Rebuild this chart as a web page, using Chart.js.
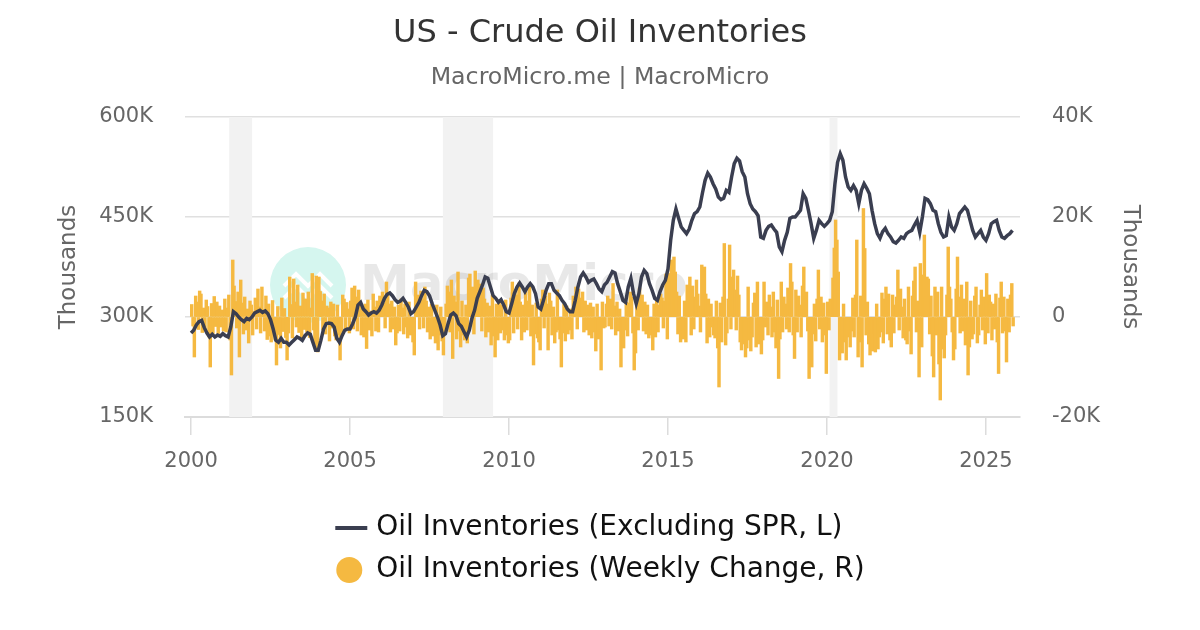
<!DOCTYPE html>
<html>
<head>
<meta charset="utf-8">
<title>US - Crude Oil Inventories</title>
<script src="https://cdn.jsdelivr.net/npm/chart.js@4.4.1/dist/chart.umd.min.js"></script>
<style>
  html, body { margin: 0; padding: 0; background: #fff; }
  #wrap { width: 1200px; height: 630px; position: relative; }
</style>
</head>
<body>
<div id="wrap"><canvas id="chart"></canvas></div>
<script>
// titles / labels
var titleText = 'US - Crude Oil Inventories';
var subtitleText = 'MacroMicro.me | MacroMicro';
var legendLabels = ['Oil Inventories (Excluding SPR, L)', 'Oil Inventories (Weekly Change, R)'];

// first year of the series, line is monthly, bars are twice a month
var startYear = 2000;

// Oil inventories excluding SPR (thousand barrels, in K) - one row per year, Jan..Dec
var inventory = [
  276, 280, 288, 293, 295, 284, 276, 270, 274, 270, 273, 271,
  275, 272, 270, 285, 308, 305, 300, 296, 293, 298, 296, 300,
  306, 308, 310, 307, 309, 305, 296, 282, 265, 262, 268, 262,
  262, 258, 262, 266, 270, 268, 265, 272, 276, 274, 262, 250,
  250, 265, 282, 290, 291, 290, 285, 268, 262, 272, 280, 282,
  282, 290, 300, 318, 322, 312, 308, 303, 306, 308, 306, 310,
  318, 328, 334, 336, 332, 326, 322, 324, 328, 322, 315, 305,
  308, 315, 322, 332, 340, 338, 332, 320, 310, 300, 288, 272,
  275, 290, 303, 306, 302, 290, 286, 278, 270, 280, 298, 310,
  328, 338, 348, 360, 358, 345, 332, 328, 322, 326, 318, 308,
  306, 320, 335, 345, 351, 345, 338, 345, 350, 345, 335, 315,
  312, 325, 340, 350, 350, 340, 336, 332, 325, 320, 312, 308,
  308, 325, 345, 360, 366, 360, 352, 355, 357, 350, 342, 338,
  348, 352, 360, 368, 366, 350, 338, 325, 322, 345, 358, 335,
  320, 335, 360, 370, 365, 350, 340, 328, 325, 338, 348, 355,
  372, 415, 445, 462, 448, 435, 430, 425, 432, 445, 455, 458,
  465, 486, 505, 516, 510, 500, 492, 480, 476, 478, 490, 487,
  510, 530, 538, 534, 518, 510, 485, 470, 462, 458, 452, 420,
  418, 430, 436, 438, 432, 427, 405, 398, 415, 427, 448, 450,
  450, 455, 460, 485, 478, 460, 440, 418, 430, 445, 440, 436,
  440, 445, 458, 500, 532, 545, 535, 510, 495, 490, 497, 490,
  470, 490, 500, 493, 485, 460, 440, 425, 418, 428, 433, 425,
  420, 413, 411, 415, 420, 418, 425, 428, 430, 438, 445, 427,
  450, 478, 476, 470, 460, 458, 440, 427, 420, 422, 450, 435,
  430, 440, 455, 460, 465, 460, 445, 430, 420, 425, 430, 420,
  415, 425, 440, 443, 445, 430, 420, 418, 422, 425, 430
];

// weekly change (in K), read roughly twice a month - one row per year
var weeklyChange = [
  2.5, -1.8, -8.0, 4.2, 3.0, -2.5, 5.2, 4.6, -3.1, 1.8, -2.6, 3.4, 2.1, -4.0, -10.0, 2.7, -3.3, 4.1, -1.9, 3.0, -3.8, 2.2, -2.0, 1.4,
  -2.8, 3.6, -3.0, 1.8, 4.4, -4.6, -11.6, 11.4, 6.2, 3.1, -2.2, 5.0, -8.0, 7.4, 2.8, -3.4, 4.0, -2.6, 1.6, -5.2, 3.2, 2.4, -3.6, 1.1,
  3.8, -2.4, 5.6, 2.0, -3.2, 6.0, 1.5, -2.8, 4.2, -4.5, 2.6, -3.8, -5.0, 3.3, -2.4, -4.6, -9.6, 2.1, -3.5, -6.2, 3.8, -2.9, 1.7, -4.1,
  -8.6, -3.2, 8.0, 2.5, -4.2, 7.6, 3.0, -2.0, 6.4, -3.1, 2.2, -4.4, 4.8, -2.5, 3.6, -3.0, 5.0, -4.1, 1.8, 8.7, -2.6, -5.5, 8.2, -7.0,
  8.0, 5.1, 3.2, -2.6, 4.6, -3.4, 2.2, 1.8, -4.8, 3.0, -2.2, 2.6, -3.8, -4.6, 2.4, -3.6, -8.6, -3.0, 4.4, 3.6, -2.4, 2.9, 1.6, -3.2,
  3.2, 5.8, -2.4, 6.2, 4.0, -2.8, 5.4, 2.2, -3.6, 1.8, -4.0, 2.6, -6.3, 3.4, -2.6, 1.2, -3.8, 4.6, 2.0, -2.8, 3.2, -3.0, 4.2, 2.4,
  5.0, 2.8, -2.2, 7.0, 4.6, 2.6, -3.0, 3.2, -2.4, 2.0, -5.6, -3.2, 2.4, -2.8, 3.6, 1.8, -3.4, 2.6, -2.0, -4.2, 3.0, -3.6, -2.4, -5.0,
  -7.6, 7.0, 2.6, 4.4, -2.4, 5.2, 3.6, -2.2, 6.0, 3.2, -3.0, 2.0, -4.4, 2.6, -3.8, -2.6, -5.2, 2.4, -6.6, -3.6, 2.0, -4.8, -7.6, -3.2,
  2.6, 6.2, 5.0, -3.0, 7.4, -8.3, 4.2, 3.0, -4.4, 9.0, -2.8, -6.0, 3.2, -3.6, -4.6, 2.4, -5.2, 7.8, 8.6, 4.4, 6.0, -3.4, 9.2, 5.0,
  7.4, 4.2, 6.6, -2.8, 5.8, 3.6, -4.0, 2.8, -3.0, 2.2, -5.6, 4.4, -3.8, -8.0, 2.6, -4.6, 3.0, -3.2, 2.4, -2.6, -4.6, 3.4, -3.6, -5.2,
  -4.6, 3.8, 7.0, -3.2, 5.2, 4.4, -2.4, 6.8, 3.0, -4.6, 2.4, -3.0, 5.6, -2.6, 3.2, 6.2, -3.8, 2.4, -9.6, -3.4, 2.8, -4.2, -5.0, -6.6,
  3.6, 5.4, -2.2, 4.2, 2.6, -6.6, 4.8, 3.2, -3.6, 2.0, -5.2, -3.0, 5.4, -2.6, -4.4, -10.0, -3.2, 2.6, -4.8, 2.2, -3.4, -2.6, 1.6, -4.4,
  4.2, 3.4, 6.0, -2.4, 5.6, 3.8, 2.6, 5.0, -3.0, 3.2, -2.6, 2.4, -3.6, 2.8, -4.2, 2.0, -3.0, -6.8, 2.6, -4.4, -2.4, -10.6, 3.0, -2.2,
  -2.0, 2.6, 4.2, -1.8, 3.6, -2.4, 6.7, 2.2, -3.6, 3.0, -2.8, 1.6, -10.0, -4.4, -6.2, -2.6, 3.0, -3.8, 2.8, 5.0, 4.0, -3.2, -10.6, -7.2,
  3.2, -2.6, 5.8, 3.6, 4.4, -2.8, 3.0, -3.4, 2.4, -4.2, -2.6, -3.6, -6.6, 2.6, -4.0, 3.2, -3.0, 2.4, 4.6, 3.8, -2.2, 3.2, 8.6, -4.4,
  8.7, 6.0, 11.4, 7.4, 12.0, 9.0, 5.0, -3.4, 4.2, -5.0, -2.6, -4.4, 3.2, -5.0, 6.4, 3.0, 8.0, -3.6, 6.2, -2.4, 4.0, 7.4, 4.6, 2.2,
  -3.0, 10.4, 7.2, 10.0, 4.6, -5.2, 3.6, -4.0, 2.6, -2.0, -3.6, -4.2, 3.2, -6.2, -14.0, 2.8, -5.0, 4.0, 14.7, -5.6, -3.2, 3.6, 14.4, -2.4,
  8.0, 9.4, 5.4, -2.6, 8.2, 4.4, -5.0, -6.6, -3.0, -5.4, -8.0, -6.2, 6.0, -4.6, -6.8, -4.0, 2.8, 4.8, -6.0, 7.0, -5.4, -3.4, -7.4, -4.6,
  7.0, -2.0, 3.0, -3.6, 4.4, 2.0, -4.0, 5.0, -3.0, -6.2, 3.4, -12.3, -4.4, 7.0, -3.0, 4.0, 2.6, -2.4, 5.8, -3.0, 10.7, 7.0, -3.6, -8.3,
  5.4, -3.0, 4.2, 2.4, -4.0, 6.2, 10.0, 3.6, 5.0, -2.8, -12.3, -4.6, -10.0, -3.4, 2.6, -4.8, 3.6, 9.4, -2.4, 4.0, -5.0, 2.8, -3.6, -11.3,
  3.0, -2.6, 3.6, 2.2, 7.8, 13.8, 19.4, 15.4, 9.0, -8.6, -4.4, -7.2, 2.6, -5.0, -8.6, -4.0, -3.2, -6.0, -2.8, 3.8, -4.0, 4.4, 15.4, -8.0,
  -5.0, 4.2, -10.0, 21.7, 13.7, -3.6, 3.0, -5.4, -7.6, -4.8, -6.8, -3.4, -7.0, 2.6, -6.4, -4.0, -3.0, 4.8, -5.2, 3.6, 6.0, -3.4, 4.6, -4.6,
  -6.0, 4.4, -3.2, 2.4, 4.0, 9.4, -2.6, 5.6, 2.0, -4.2, 3.6, -4.6, -5.4, 6.0, -2.8, -7.4, 4.2, 7.2, 10.0, -3.0, 3.2, -12.0, 10.7, -6.0,
  8.4, 16.4, 4.0, 8.0, 7.6, -3.4, 4.2, -7.8, -12.0, 6.0, -3.6, 5.0, -9.4, -16.6, 6.0, -6.4, -8.2, -3.6, 4.4, 14.0, 6.0, 3.6, -3.0, -8.6,
  -6.4, 5.6, 12.0, 4.0, -3.2, 6.4, -2.8, 3.6, -5.6, 7.0, -11.6, -6.0, 3.2, -4.4, -3.4, 4.2, 6.0, -5.2, -3.6, 2.4, 5.4, -2.6, 4.0, -5.4,
  8.7, -3.2, 4.4, 3.0, -4.6, 2.6, -2.4, 4.6, -5.0, -11.3, 3.8, 7.0, -3.2, 4.0, -2.8, -9.0, 3.6, -3.0, 4.4, 6.7, -1.8
];

// shaded recession periods (start, end in years)
var recessions = [[2001.2, 2001.92], [2007.92, 2009.5], [2020.08, 2020.33]];

// axis ticks
var yearTicks = [2000, 2005, 2010, 2015, 2020, 2025];
var leftTicks = [150, 300, 450, 600];
var rightTicks = [-20, 0, 20, 40];
var xMin = 1999.81, xMax = 2026.07;

var lineColor = '#3a3e50';
var barColor = '#f5b941';

Chart.defaults.font.family = '"DejaVu Sans", sans-serif';

// points for the chart
var linePoints = inventory.map(function (v, i) { return {x: startYear + i / 12, y: v}; });
var barPoints = weeklyChange.map(function (v, i) { return {x: startYear + (i + 0.5) / 24, y: v}; });

// recession bands + watermark behind the data
var backdrop = {
  id: 'backdrop',
  beforeDatasetsDraw: function (chart) {
    var ctx = chart.ctx, a = chart.chartArea, x = chart.scales.x;
    ctx.save();
    ctx.fillStyle = '#f2f2f2';
    recessions.forEach(function (r) {
      var x0 = x.getPixelForValue(r[0]), x1 = x.getPixelForValue(r[1]);
      ctx.fillRect(x0, a.top, x1 - x0, a.bottom - a.top);
    });
    // MacroMicro watermark
    var cx = a.left + 123, cy = a.top + 168;
    ctx.fillStyle = '#d5f6ef';
    ctx.beginPath();
    ctx.arc(cx, cy, 38, 0, Math.PI * 2);
    ctx.fill();
    ctx.strokeStyle = '#ffffff';
    ctx.lineWidth = 4;
    [-5, 7].forEach(function (dy) {
      ctx.beginPath();
      ctx.moveTo(cx - 24, cy + dy + 6);
      ctx.lineTo(cx - 12, cy + dy - 6);
      ctx.lineTo(cx, cy + dy + 6);
      ctx.lineTo(cx + 12, cy + dy - 6);
      ctx.lineTo(cx + 24, cy + dy + 6);
      ctx.stroke();
    });
    ctx.fillStyle = 'rgba(0,0,0,0.09)';
    ctx.font = 'bold 50px "DejaVu Sans"';
    ctx.textBaseline = 'middle';
    ctx.fillText('MacroMicro', cx + 52, cy + 2);
    ctx.restore();
  }
};

// title, subtitle and the two-row legend
var texts = {
  id: 'texts',
  afterDraw: function (chart) {
    var ctx = chart.ctx, mid = chart.width / 2;
    ctx.save();
    ctx.textAlign = 'center';
    ctx.textBaseline = 'middle';
    ctx.fillStyle = '#333333';
    ctx.font = '32px "DejaVu Sans"';
    ctx.fillText(titleText, mid, 34);
    ctx.fillStyle = '#666666';
    ctx.font = '23.7px "DejaVu Sans"';
    ctx.fillText(subtitleText, mid, 78);

    ctx.font = '28px "DejaVu Sans"';
    ctx.textAlign = 'left';
    var w = Math.max.apply(null, legendLabels.map(function (t) { return ctx.measureText(t).width; }));
    var left = mid - (41 + w) / 2;
    var y1 = 528, y2 = 570;
    ctx.strokeStyle = lineColor;
    ctx.lineWidth = 4;
    ctx.beginPath();
    ctx.moveTo(left, y1);
    ctx.lineTo(left + 32, y1);
    ctx.stroke();
    ctx.fillStyle = barColor;
    ctx.beginPath();
    ctx.arc(left + 14, y2, 13, 0, Math.PI * 2);
    ctx.fill();
    ctx.fillStyle = '#111111';
    ctx.fillText(legendLabels[0], left + 41, y1);
    ctx.fillText(legendLabels[1], left + 41, y2);
    ctx.restore();
  }
};

var ctx = document.getElementById('chart').getContext('2d');
var chart = new Chart(ctx, {
  type: 'bar',
  data: {
    datasets: [
      {
        type: 'line',
        label: legendLabels[0],
        data: linePoints,
        yAxisID: 'yL',
        borderColor: lineColor,
        borderWidth: 3.5,
        pointRadius: 0,
        tension: 0,
        order: 0
      },
      {
        type: 'bar',
        label: legendLabels[1],
        data: barPoints,
        yAxisID: 'yR',
        backgroundColor: barColor,
        barThickness: 2.8,
        order: 1
      }
    ]
  },
  options: {
    responsive: true,
    maintainAspectRatio: false,
    animation: false,
    layout: { padding: { top: 117, left: 0, right: 0, bottom: 0 } },
    plugins: { legend: { display: false }, tooltip: { enabled: false } },
    scales: {
      x: {
        type: 'linear',
        min: xMin,
        max: xMax,
        offset: false,
        afterBuildTicks: function (s) { s.ticks = yearTicks.map(function (v) { return {value: v}; }); },
        afterFit: function (s) { s.height = 213; },
        grid: { offset: false, drawOnChartArea: false, drawTicks: true, tickLength: 18, color: '#dcdcdc', lineWidth: 1.5 },
        border: { display: true, color: '#dcdcdc', width: 2 },
        ticks: { color: '#666666', font: { size: 21 }, padding: 14, maxRotation: 0, callback: function (v) { return String(v); } }
      },
      yL: {
        position: 'left',
        min: 150,
        max: 600,
        afterBuildTicks: function (s) { s.ticks = leftTicks.map(function (v) { return {value: v}; }); },
        afterFit: function (s) { s.width = 185; },
        grid: { color: '#e0e0e0', lineWidth: 1.5, drawTicks: false },
        border: { display: false },
        ticks: { color: '#666666', font: { size: 21 }, padding: 32, callback: function (v) { return v + 'K'; } },
        title: { display: true, text: 'Thousands', color: '#666666', font: { size: 23 }, padding: { top: 55, bottom: 0 } }
      },
      yR: {
        position: 'right',
        min: -20,
        max: 40,
        afterBuildTicks: function (s) { s.ticks = rightTicks.map(function (v) { return {value: v}; }); },
        afterFit: function (s) { s.width = 180; },
        grid: { drawOnChartArea: false, drawTicks: false },
        border: { display: false },
        ticks: { color: '#666666', font: { size: 21 }, padding: 32, callback: function (v) { return v === 0 ? '0' : v + 'K'; } },
        title: { display: true, text: 'Thousands', color: '#666666', font: { size: 23 }, padding: { top: 56, bottom: 0 } }
      }
    }
  },
  plugins: [backdrop, texts]
});
</script>
</body>
</html>
